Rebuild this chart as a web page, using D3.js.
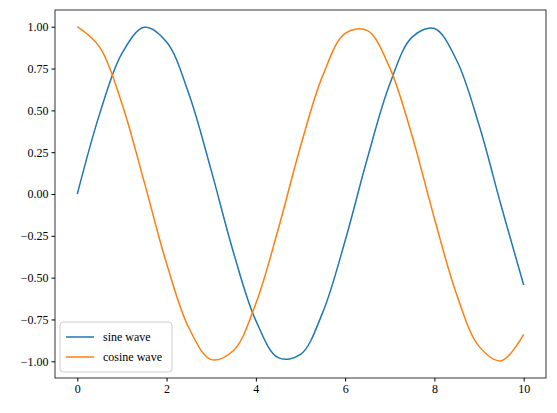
<!DOCTYPE html>
<html lang="en">
<head>
<meta charset="UTF-8">
<script src="https://d3js.org/d3.v7.min.js"></script>
<style>
  body { margin: 0; background: #fff; font-family: "Liberation Serif", "DejaVu Serif", serif; }
  .axis text { font-size: 12px; font-family: "Liberation Serif", serif; fill: #000; }
</style>
</head>
<body>
<svg width="557" height="413"></svg>
<script>
  const xs = [0,0.5,1,1.5,2,2.5,3,3.5,4,4.5,5,5.5,6,6.5,7,7.5,8,8.5,9,9.5,10];
  const sineVals = [0,0.479,0.841,0.997,0.909,0.598,0.141,-0.351,-0.757,-0.978,-0.959,-0.706,-0.279,0.215,0.657,0.938,0.989,0.798,0.412,-0.075,-0.544];
  const cosVals = [1,0.878,0.540,0.071,-0.416,-0.801,-0.990,-0.936,-0.654,-0.211,0.284,0.709,0.960,0.977,0.754,0.347,-0.146,-0.602,-0.911,-0.997,-0.839];
  const xTicks = [0,2,4,6,8,10];
  const yTicks = [-1,-0.75,-0.5,-0.25,0,0.25,0.5,0.75,1];
  const seriesNames = ["sine wave", "cosine wave"];
  const colors = ["#1f77b4", "#ff7f0e"];

  const svg = d3.select("svg");
  const mLeft = 55, mRight = 546, mTop = 10, mBottom = 378;

  const x = d3.scaleLinear().domain([-0.5, 10.5]).range([mLeft, mRight]);
  const y = d3.scaleLinear().domain([-1.1, 1.1]).range([mBottom, mTop]);

  svg.append("g").attr("class", "axis")
    .attr("transform", `translate(0,${mBottom})`)
    .call(d3.axisBottom(x).tickValues(xTicks).tickFormat(d3.format("d")).tickSizeOuter(0).tickSize(3.5));
  svg.append("g").attr("class", "axis")
    .attr("transform", `translate(${mLeft},0)`)
    .call(d3.axisLeft(y).tickValues(yTicks).tickFormat(d3.format(".2f")).tickSizeOuter(0).tickSize(3.5));
  svg.selectAll(".axis .domain").remove();

  svg.append("rect").attr("x", mLeft).attr("y", mTop)
    .attr("width", mRight - mLeft).attr("height", mBottom - mTop)
    .attr("fill", "none").attr("stroke", "#000").attr("stroke-width", 0.8);

  const line = d3.line().x((d, i) => x(xs[i])).y(d => y(d)).curve(d3.curveCatmullRom.alpha(0.5));
  [sineVals, cosVals].forEach((vals, k) => {
    svg.append("path").attr("d", line(vals))
      .attr("fill", "none").attr("stroke", colors[k]).attr("stroke-width", 1.5);
  });

  const lg = svg.append("g").attr("transform", "translate(60,322)");
  lg.append("rect").attr("width", 112).attr("height", 50).attr("rx", 3)
    .attr("fill", "#fff").attr("fill-opacity", 0.8).attr("stroke", "#ccc");
  seriesNames.forEach((n, i) => {
    const yy = 15 + i * 20;
    lg.append("line").attr("x1", 6).attr("x2", 34).attr("y1", yy).attr("y2", yy)
      .attr("stroke", colors[i]).attr("stroke-width", 1.5);
    lg.append("text").attr("x", 43).attr("y", yy + 4).attr("font-size", 12).text(n);
  });
</script>
</body>
</html>
